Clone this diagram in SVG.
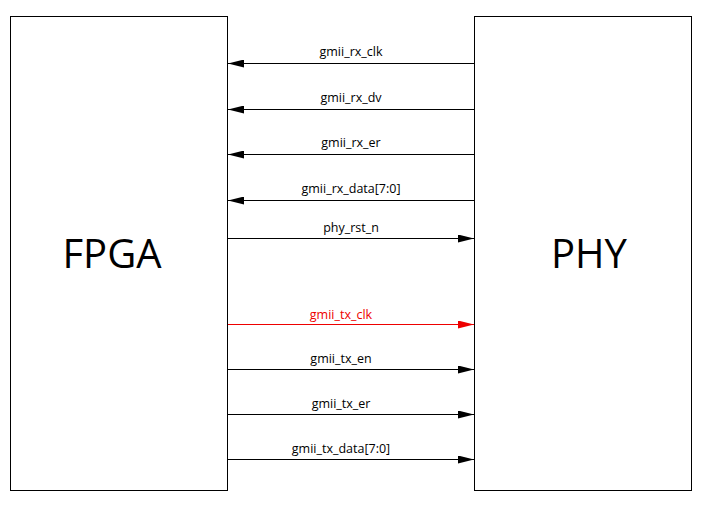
<svg xmlns="http://www.w3.org/2000/svg" width="709" height="506" viewBox="0 0 709 506">
<style>
.box{fill:#fff;stroke:#000;stroke-width:1}
.big{font-family:"Open Sans","Liberation Sans",sans-serif;font-size:40px;text-anchor:middle}
.lbl{font-family:"Open Sans","Liberation Sans",sans-serif;font-size:12.5px;text-anchor:middle}
.ln{stroke:#000;stroke-width:1.2}
</style>
<defs>
<marker id="a" markerWidth="16" markerHeight="8" refX="16" refY="4" orient="auto" markerUnits="userSpaceOnUse"><path d="M0,0L16,4L0,8z" fill="#000"/></marker>
<marker id="r" markerWidth="16" markerHeight="8" refX="16" refY="4" orient="auto" markerUnits="userSpaceOnUse"><path d="M0,0L16,4L0,8z" fill="#e00"/></marker>
</defs>
<rect width="709" height="506" fill="#fff"/>
<g id="fpga"><rect class="box" x="10.5" y="16.5" width="217" height="474"/><text class="big" x="112" y="268">FPGA</text></g>
<g id="phy"><rect class="box" x="474.5" y="16.5" width="217" height="474"/><text class="big" x="589" y="268">PHY</text></g>
<g id="connectors">
<line class="ln" x1="474" y1="63.5" x2="228" y2="63.5" marker-end="url(#a)"/>
<line class="ln" x1="474" y1="109.5" x2="228" y2="109.5" marker-end="url(#a)"/>
<line class="ln" x1="474" y1="154.5" x2="228" y2="154.5" marker-end="url(#a)"/>
<line class="ln" x1="474" y1="200.5" x2="228" y2="200.5" marker-end="url(#a)"/>
<line class="ln" x1="228" y1="238.5" x2="474" y2="238.5" marker-end="url(#a)"/>
<line x1="228" y1="324.5" x2="474" y2="324.5" stroke="#e00" stroke-width="1.2" marker-end="url(#r)"/>
<line class="ln" x1="228" y1="369.5" x2="474" y2="369.5" marker-end="url(#a)"/>
<line class="ln" x1="228" y1="414.5" x2="474" y2="414.5" marker-end="url(#a)"/>
<line class="ln" x1="228" y1="459.5" x2="474" y2="459.5" marker-end="url(#a)"/>
<text class="lbl" x="351" y="56">gmii_rx_clk</text>
<text class="lbl" x="351" y="102">gmii_rx_dv</text>
<text class="lbl" x="351" y="147">gmii_rx_er</text>
<text class="lbl" x="351" y="193">gmii_rx_data[7:0]</text>
<text class="lbl" x="351" y="232">phy_rst_n</text>
<text class="lbl" x="341" y="319" fill="#e00">gmii_tx_clk</text>
<text class="lbl" x="341" y="363">gmii_tx_en</text>
<text class="lbl" x="341" y="408">gmii_tx_er</text>
<text class="lbl" x="341" y="453">gmii_tx_data[7:0]</text>
</g>
</svg>
